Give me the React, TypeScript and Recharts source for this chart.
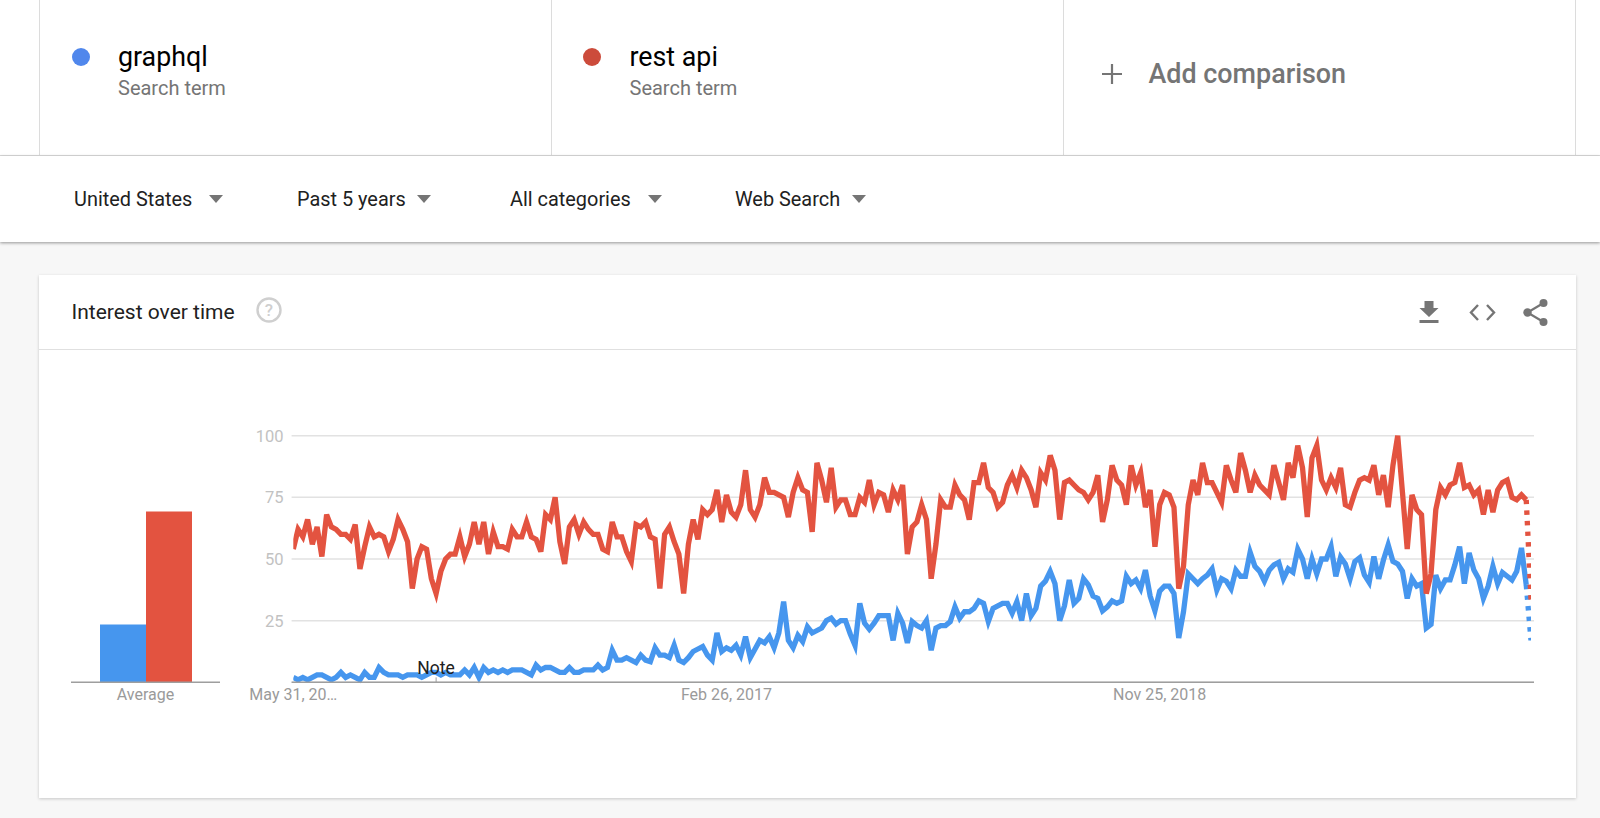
import React from 'react';
import { LineChart, Line, BarChart, Bar, XAxis, YAxis, CartesianGrid, ReferenceLine } from 'recharts';

const graphqlValues = [
  2,1,2,1,2,3,3,2,1,2,4,2,3,2,1,4,2,2,6,4,3,3,3,2,3,3,3,2,3,4,4,
  3,4,3,3,3,5,3,6,2,6,4,5,4,5,4,5,5,5,4,3,7,5,6,6,5,4,4,6,4,4,5,5,5,7,5,6,13,9,9,10,9,8,11,9,8.4,14,11,
  11,10,15,9,8,10,12.5,13.5,14.5,11,9,20,12.5,14,13,15,11,18.5,10,13.5,17,16,18.5,14,20,32.7,17,14,19,16.5,22.5,20,
  21,22,25,26,23.6,25,25,19.6,15,32,24,21.5,24,27,27,27,17,28,24,16,24.6,23,22,25,13,22,23,23,24.6,30.6,26,28.6,28.6,30,
  33,32,24.6,30,31,32,32,28,32.7,25,36,27,30,39,41,45,40,25,31,41.5,32,34,42,39.5,
  35,34,29,30.6,33,32,33,43,40,41.5,38,45.5,35,29,37,39,39,36,18,28.6,44,42,40,42,43.5,46,37.4,42,41,38,45.5,43,43,52.7,
  47,45,41,45.5,47.6,48.6,42,46,44.6,54,50,42,50,44,50,50,55,43,50.7,48,42,49,50.5,43.5,40.5,51,42,49.6,55.7,49,48,45,
  34,42,39,40,22,23.5,43.5,38,41.5,41.5,47.6,55,40,52.5,45.5,42,34,39,47,40,44.5,43,41.5,45,54.5,39.5,
];
const restApiValues = [
  54,62,59,66,56,63,51,68,63,62,60,60,58,64,46,55,63,59,60,59,53,58,66,62,57,38,50,55,54,42,36,
  45,50,52,52,59,51,56,65,56,65,52,61,55,55,54,62,59,59,65,59,58,53,68,66,75,57,48,63,66,60,65,62,60,60,54,53,65,59,59,53,49,64,63,65,59,58,38,
  60,63,57,52,36,56,66,58,70,68,70,78,65,76,69,67,72,86,70,67,72,83,77,77,76,75,67,77,83,78,
  77,61,89,82,73,87,71,74,74,68,68,75,73,82,72,77,76,69,78,74,80,52,63,65,72,66,42,56,74,71,
  71,80,76,74,66,81,81,89,79,77,71,73,80,84,79,86,83,78,71,85,82,92,86,66,81,82,80,78,77,74,
  77,84,65,74,88,82,80,72,88,80,85,71,78,55,72,77,76,71,38,47,72,82,76,89,81,81,77,73,88,82,
  77,93,86,77,84,80,78,76,88,81,74,89,83,96,87,67,91,96,82,78,83,79,87,72,71,77,82,83,82,88,
  76,84,71,88,100,77,54,76,70,68,36,44,70,79,76,80,81,89,79,80,76,78,68,78,69,78,81,82,75,74,76,74,
];
const graphqlPartial = [39.5, 17];
const restApiPartial = [74, 33.5];
const yTicks = [25, 50, 75, 100];
const dateTickIndexes = [0, 91, 182];
const dateTickLabels = ['May 31, 20…', 'Feb 26, 2017', 'Nov 25, 2018'];
const noteIndex = 30;
const averageData = [{ name: 'Average', graphql: 23.4, restApi: 69.3 }];
const terms = ['graphql', 'rest api'];
const filters = ['United States', 'Past 5 years', 'All categories', 'Web Search'];

const BLUE = '#4696EE';
const RED = '#E35340';
const FONT = 'Roboto, sans-serif';

const lastSolid = restApiValues.length - 1;
const timeline = [...restApiValues, restApiPartial[1]].map((_, i) => ({
  i,
  graphql: i <= lastSolid ? graphqlValues[i] : null,
  restApi: i <= lastSolid ? restApiValues[i] : null,
  graphqlPartial: i === lastSolid ? graphqlPartial[0] : i === lastSolid + 1 ? graphqlPartial[1] : null,
  restApiPartial: i === lastSolid ? restApiPartial[0] : i === lastSolid + 1 ? restApiPartial[1] : null,
}));

const abs = (left: number, top: number, extra: React.CSSProperties = {}): React.CSSProperties => ({
  position: 'absolute', left, top, whiteSpace: 'nowrap', ...extra,
});

function DateTick({ x, y, payload }: any) {
  const idx = dateTickIndexes.indexOf(payload.value);
  return (
    <text x={x} y={y + 10} textAnchor="middle" fontFamily={FONT} fontSize={16} fill="#9a9a9a">
      {dateTickLabels[idx]}
    </text>
  );
}

function AverageTick({ x, y, payload }: any) {
  return (
    <text x={x} y={y + 10} textAnchor="middle" fontFamily={FONT} fontSize={16} fill="#9a9a9a">
      {payload.value}
    </text>
  );
}

function Triangle({ cx }: { cx: number }) {
  return (
    <svg style={abs(cx - 8, 194)} width={16} height={10}>
      <polygon points="1,1 15,1 8,9" fill="#757575" />
    </svg>
  );
}

export default function App() {
  const dotColors = ['#5087EC', '#CC4B3B'];
  const termX = [80.6, 592];
  const textX = [118, 629.5];
  const filterX = [74, 297, 510, 735];
  const triX = [215.8, 423.5, 654.6, 859];
  return (
    <div style={{ position: 'absolute', left: 0, top: 0, width: 1600, height: 818, overflow: 'hidden', background: '#f7f7f7', fontFamily: FONT }}>
      {/* header */}
      <div style={abs(0, 0, { width: 1600, height: 155, background: '#fff', borderBottom: '1px solid #dcdcdc', boxSizing: 'content-box' })} />
      {[39, 550.5, 1062.5, 1575].map(x => (
        <div key={x} style={abs(x, 0, { width: 1, height: 155, background: '#dcdcdc' })} />
      ))}
      {terms.map((t, i) => (
        <React.Fragment key={t}>
          <div style={abs(termX[i] - 9, 47.5, { width: 18, height: 18, borderRadius: 9, background: dotColors[i] })} />
          <div style={abs(textX[i], 42, { fontSize: 26.8, lineHeight: '30px', color: '#000' })}>{t}</div>
          <div style={abs(textX[i], 76, { fontSize: 20, lineHeight: '24px', color: '#757575' })}>Search term</div>
        </React.Fragment>
      ))}
      <svg style={abs(1101, 63)} width={22} height={22}>
        <path d="M1 11H21M11 1V21" stroke="#757575" strokeWidth={2.2} />
      </svg>
      <div style={abs(1148.5, 59, { fontSize: 26.9, lineHeight: '30px', fontWeight: 500, color: '#757575' })}>Add comparison</div>

      {/* filter bar */}
      <div style={abs(0, 156, { width: 1600, height: 86, background: '#fff', boxShadow: '0 1px 3px rgba(0,0,0,0.4)' })} />
      {filters.map((f, i) => (
        <React.Fragment key={f}>
          <div style={abs(filterX[i], 188, { fontSize: 19.9, lineHeight: '24px', color: '#212121' })}>{f}</div>
          <Triangle cx={triX[i]} />
        </React.Fragment>
      ))}

      {/* card */}
      <div style={abs(39, 275, { width: 1537, height: 523, background: '#fff', boxShadow: '0 1px 3px rgba(0,0,0,0.2)' })} />
      <div style={abs(39, 349, { width: 1537, height: 1, background: '#e0e0e0' })} />
      <div style={abs(71.5, 300, { fontSize: 21, lineHeight: '24px', color: '#212121' })}>Interest over time</div>
      <svg style={abs(255, 296)} width={28} height={28}>
        <circle cx={14} cy={14} r={11.5} fill="none" stroke="#cfcfcf" strokeWidth={2.4} />
        <text x={14} y={20} textAnchor="middle" fontFamily={FONT} fontSize={17} fontWeight={500} fill="#cfcfcf">?</text>
      </svg>
      <svg style={abs(1416, 298)} width={150} height={30}>
        <path d="M8.5 3H17.5V10H22.5L13 19L3.5 10H8.5Z M3.5 22H22.5V25H3.5Z" fill="#757575" />
        <path d="M62 7L55 14.5L62 22M71 7L78 14.5L71 22" fill="none" stroke="#757575" strokeWidth={2.4} />
        <path d="M127.5 5L111.5 14.5L127.5 24" fill="none" stroke="#757575" strokeWidth={2.2} />
        <circle cx={127.5} cy={5} r={4} fill="#757575" />
        <circle cx={111.5} cy={14.5} r={4.2} fill="#757575" />
        <circle cx={127.5} cy={24} r={4} fill="#757575" />
      </svg>

      {/* average bars */}
      <div style={abs(60, 410)}>
        <BarChart width={160} height={300} data={averageData} margin={{ top: 25.7, right: 0, bottom: 0, left: 11 }} barCategoryGap={29} barGap={0}>
          <XAxis dataKey="name" height={27.7} tickLine={false} axisLine={{ stroke: '#9e9e9e', strokeWidth: 1.5 }}
            tick={<AverageTick />} interval={0} />
          <YAxis hide domain={[0, 100]} />
          <Bar dataKey="graphql" fill={BLUE} isAnimationActive={false} />
          <Bar dataKey="restApi" fill={RED} isAnimationActive={false} />
        </BarChart>
      </div>

      {/* timeline */}
      <div style={abs(240, 410)}>
        <LineChart width={1320} height={300} data={timeline} margin={{ top: 25.7, right: 26, bottom: 0, left: 0 }}>
          <CartesianGrid vertical={false} stroke="#e2e2e2" strokeWidth={1.5} />
          <XAxis dataKey="i" type="number" domain={[0, 260]} padding={{ left: 1.7, right: 3 }} ticks={dateTickIndexes}
            height={27.7} tickLine={false} axisLine={{ stroke: '#9e9e9e', strokeWidth: 1.5 }} tick={<DateTick />} interval={0} allowDataOverflow />
          <YAxis width={51.6} domain={[0, 100]} ticks={yTicks} axisLine={false} tickLine={false} tickMargin={2}
            tick={{ fontFamily: FONT, fontSize: 16.5, fill: '#c2c2c2' }} />
          <Line dataKey="graphql" stroke={BLUE} strokeWidth={5.3} dot={false} activeDot={false} isAnimationActive={false} connectNulls={false} />
          <Line dataKey="graphqlPartial" stroke={BLUE} strokeWidth={5.3} strokeDasharray="4.4 6.2" dot={false} activeDot={false} isAnimationActive={false} />
          <Line dataKey="restApi" stroke={RED} strokeWidth={5.3} dot={false} activeDot={false} isAnimationActive={false} connectNulls={false} />
          <Line dataKey="restApiPartial" stroke={RED} strokeWidth={5.3} strokeDasharray="4.4 6.2" dot={false} activeDot={false} isAnimationActive={false} />
          <ReferenceLine segment={[{ x: noteIndex, y: 0 }, { x: noteIndex, y: 2 }]} stroke="#9e9e9e" strokeWidth={1}
            label={{ value: 'Note', position: 'top', offset: 3, fontFamily: FONT, fontSize: 17.5, fill: '#212121' }} />
        </LineChart>
      </div>
    </div>
  );
}
